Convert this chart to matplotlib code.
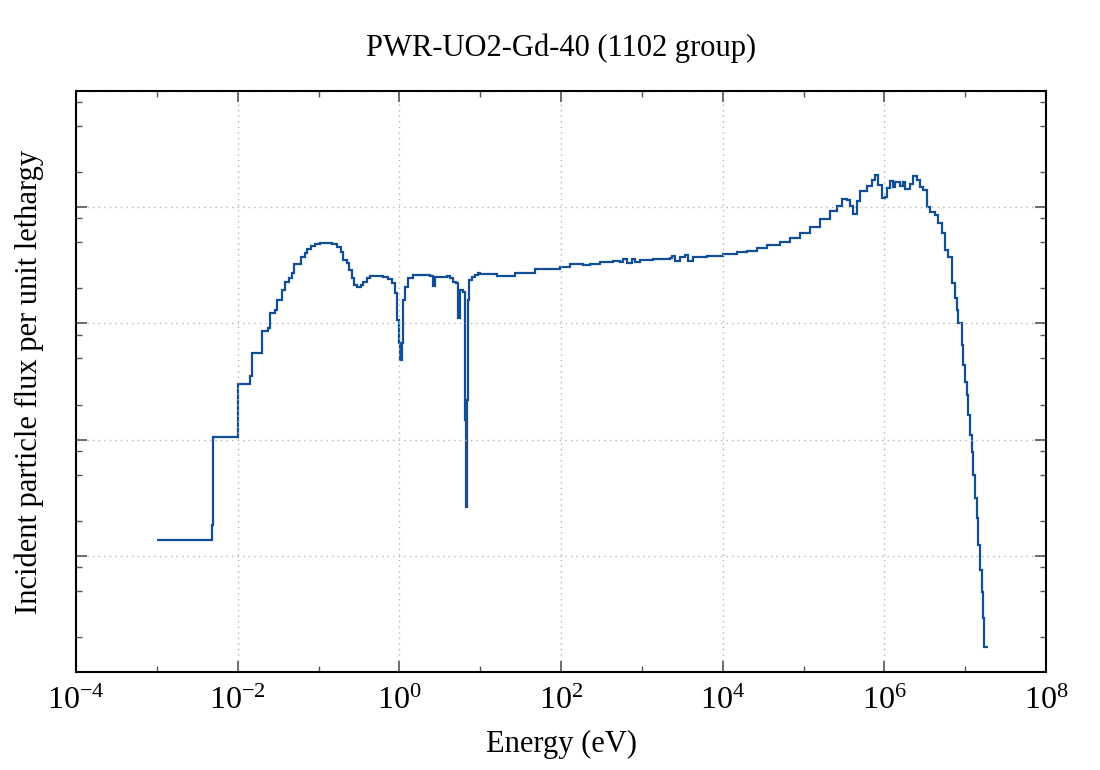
import matplotlib
matplotlib.use("Agg")
import matplotlib.pyplot as plt
from matplotlib.ticker import LogLocator, NullFormatter, LogFormatterMathtext

plt.rcParams['font.family'] = 'serif'
plt.rcParams['font.serif'] = ['Liberation Serif', 'DejaVu Serif']
plt.rcParams['mathtext.fontset'] = 'custom'
plt.rcParams['mathtext.rm'] = 'Liberation Serif'
plt.rcParams['mathtext.it'] = 'Liberation Serif:italic'
plt.rcParams['axes.unicode_minus'] = False

title = "PWR-UO2-Gd-40 (1102 group)"
xlabel = "Energy (eV)"
ylabel = "Incident particle flux per unit lethargy"

# group lower edges (eV); last entry closes the top group
energy = [
    1.0e-3, 4.77e-3, 5.0e-3, 1.0e-2, 1.42e-2, 1.49e-2, 2.0e-2, 2.39e-2, 2.51e-2, 2.90e-2,
    3.04e-2, 3.51e-2, 3.85e-2, 4.36e-2, 4.66e-2, 4.98e-2, 6.03e-2, 6.81e-2, 7.27e-2, 8.01e-2,
    9.06e-2, 0.1044, 0.1457, 0.168, 0.1883, 0.2028, 0.2234, 0.2405, 0.2576, 0.275,
    0.302, 0.333, 0.3584, 0.395, 0.434, 0.634, 0.731, 0.805, 0.884, 0.944,
    0.991, 1.02, 1.07, 1.10, 1.176, 1.29, 1.476, 2.40, 2.63, 2.76,
    3.86, 4.24, 4.65, 5.03, 5.37, 5.63, 6.08, 6.46, 6.63, 6.78,
    6.98, 7.34, 7.86, 8.64, 9.49, 9.96, 15.3, 16.0, 27.0, 47.7,
    97.3, 129, 189, 229, 304, 444, 537, 590, 650, 750,
    824, 950, 1387, 2234, 2344, 2575, 2969, 3421, 3760, 4335,
    6353, 7663, 1.02e4, 1.49e4, 1.99e4, 2.64e4, 3.51e4, 4.44e4, 5.13e4, 6.81e4,
    9.06e4, 1.20e5, 1.60e5, 2.13e5, 2.58e5, 2.97e5, 3.43e5, 3.76e5, 4.14e5, 4.55e5,
    5.0e5, 6.06e5, 6.99e5, 7.67e5, 8.43e5, 9.29e5, 1.02e6, 1.07e6, 1.18e6, 1.29e6,
    1.36e6, 1.49e6, 1.56e6, 1.72e6, 1.80e6, 2.08e6, 2.29e6, 2.52e6, 2.77e6, 3.04e6,
    3.35e6, 3.68e6, 4.24e6, 4.66e6, 5.13e6, 5.64e6, 6.19e6, 6.82e6, 7.49e6, 7.87e6,
    8.23e6, 9.07e6, 9.49e6, 9.96e6, 1.046e7, 1.094e7, 1.148e7, 1.205e7, 1.262e7, 1.325e7,
    1.39e7, 1.456e7, 1.528e7, 1.60e7, 1.68e7, 1.71e7, 1.94e7,
]

# flux per unit lethargy in each group (arbitrary units)
flux = [
    1.37e-3, 1.84e-3, 1.06e-2, 3.01e-2, 3.55e-2, 5.60e-2, 8.65e-2, 9.08e-2, 0.1236, 0.1304,
    0.159, 0.194, 0.2285, 0.247, 0.270, 0.3226, 0.375, 0.406, 0.434, 0.4634,
    0.482, 0.495, 0.482, 0.4518, 0.414, 0.351, 0.329, 0.288, 0.2444, 0.214,
    0.2045, 0.214, 0.2285, 0.2444, 0.256, 0.249, 0.241, 0.2214, 0.1815, 0.107,
    0.0674, 0.0484, 0.0674, 0.159, 0.207, 0.2444, 0.261, 0.256, 0.21, 0.252,
    0.256, 0.2444, 0.2285, 0.2214, 0.1106, 0.194, 0.1875, 0.01475, 2.65e-3, 0.0219,
    0.159, 0.236, 0.252, 0.261, 0.270, 0.265, 0.266, 0.256, 0.273, 0.294,
    0.304, 0.3245, 0.318, 0.3245, 0.340, 0.3464, 0.3356, 0.356, 0.333, 0.356,
    0.340, 0.351, 0.358, 0.3633, 0.380, 0.3464, 0.3705, 0.388, 0.3464, 0.375,
    0.3825, 0.380, 0.393, 0.4115, 0.422, 0.443, 0.473, 0.473, 0.505, 0.540,
    0.6035, 0.6796, 0.787, 0.927, 1.03, 1.177, 1.153, 1.03, 0.869, 1.13,
    1.379, 1.532, 1.714, 1.893, 1.553, 1.193, 1.231, 1.455, 1.681, 1.501,
    1.658, 1.638, 1.532, 1.658, 1.434, 1.575, 1.867, 1.714, 1.501, 1.406,
    1.01, 0.915, 0.857, 0.727, 0.596, 0.428, 0.375, 0.2214, 0.1644, 0.1304,
    0.1002, 0.0652, 0.0439, 0.0315, 0.0242, 0.01628, 0.01095, 7.87e-3, 4.96e-3, 3.13e-3,
    2.10e-3, 1.24e-3, 7.54e-4, 4.91e-4, 2.90e-4, 1.65e-4,
]

fig = plt.figure(figsize=(11, 7.7), dpi=100)
ax = fig.add_axes([76 / 1100, 1 - 672 / 770, 970 / 1100, 581 / 770])

ax.stairs(flux, energy, baseline=None, color='#124e96', lw=1.6)

ax.set_xscale('log')
ax.set_yscale('log')
ax.set_xlim(1e-4, 1e8)
ax.set_ylim(1e-4, 1e1)

ax.xaxis.set_major_locator(LogLocator(base=100.0, numticks=20))
ax.xaxis.set_minor_locator(LogLocator(base=10.0, numticks=20))
ax.xaxis.set_major_formatter(LogFormatterMathtext(base=10.0))
ax.xaxis.set_minor_formatter(NullFormatter())
ax.yaxis.set_major_locator(LogLocator(base=10.0, numticks=20))
ax.yaxis.set_minor_locator(LogLocator(base=10.0, subs=[2, 5, 8], numticks=20))
ax.yaxis.set_major_formatter(NullFormatter())
ax.yaxis.set_minor_formatter(NullFormatter())

ax.tick_params(which='both', direction='in', top=True, right=True, color='#555555')
ax.tick_params(which='major', length=8, width=1.2, labelsize=23, pad=11)
ax.tick_params(which='minor', length=4, width=1.0)

ax.grid(True, which='major', color='#b5b5b5', linestyle=(0, (1, 3)), lw=1.0)
for s in ax.spines.values():
    s.set_linewidth(1.5)

ax.set_title(title, fontsize=22, pad=25)
ax.set_xlabel(xlabel, fontsize=22, labelpad=10)
ax.set_ylabel(ylabel, fontsize=22, labelpad=12)

fig.savefig('out.png', dpi=100)
